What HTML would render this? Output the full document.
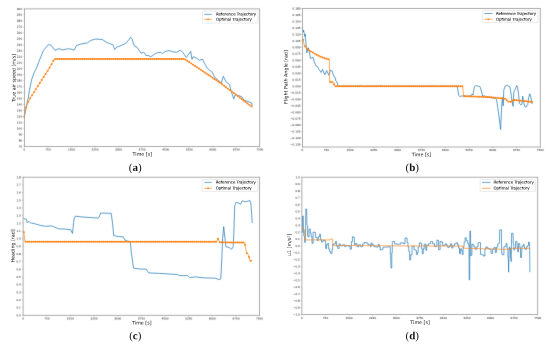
<!DOCTYPE html>
<html lang="en"><head><meta charset="utf-8"><title>Trajectory comparison</title>
<style>
html,body{margin:0;padding:0;background:#fff;}
body{width:550px;height:347px;overflow:hidden;}
svg{display:block;}
text{font-family:"DejaVu Sans","Liberation Sans",sans-serif;fill:#222;text-rendering:geometricPrecision;}
.tk{font-size:2.8px;fill:#000;}
.lb{font-size:4.8px;fill:#111;}
.lg{font-size:3.92px;fill:#000;stroke:#000;stroke-width:0.04px;}
.cap{font-family:"Liberation Serif","DejaVu Serif",serif;font-size:11px;fill:#111;}
</style></head><body>
<svg width="550" height="347" viewBox="0 0 550 347">
<rect width="550" height="347" fill="#fff"/>
<filter id="soft" x="0" y="0" width="550" height="347" filterUnits="userSpaceOnUse" color-interpolation-filters="sRGB"><feConvolveMatrix order="3" kernelMatrix="0.01 0.05 0.01 0.05 0.76 0.05 0.01 0.05 0.01" edgeMode="duplicate" preserveAlpha="false"/></filter>
<filter id="soft2" x="0" y="0" width="550" height="347" filterUnits="userSpaceOnUse" color-interpolation-filters="sRGB"><feConvolveMatrix order="3" kernelMatrix="0.015 0.07 0.015 0.07 0.66 0.07 0.015 0.07 0.015" edgeMode="duplicate" preserveAlpha="false"/></filter>
<g filter="url(#soft)"><rect width="550" height="347" fill="#fff"/>

<path d="M24.5,146.4v1.1M48.0,146.4v1.1M71.5,146.4v1.1M95.1,146.4v1.1M118.6,146.4v1.1M142.1,146.4v1.1M165.7,146.4v1.1M189.2,146.4v1.1M212.7,146.4v1.1M236.2,146.4v1.1M259.8,146.4v1.1M24.5,8.9h-1.1M24.5,14.9h-1.1M24.5,20.9h-1.1M24.5,26.8h-1.1M24.5,32.8h-1.1M24.5,38.8h-1.1M24.5,44.8h-1.1M24.5,50.7h-1.1M24.5,56.7h-1.1M24.5,62.7h-1.1M24.5,68.7h-1.1M24.5,74.7h-1.1M24.5,80.6h-1.1M24.5,86.6h-1.1M24.5,92.6h-1.1M24.5,98.6h-1.1M24.5,104.6h-1.1M24.5,110.5h-1.1M24.5,116.5h-1.1M24.5,122.5h-1.1M24.5,128.5h-1.1M24.5,134.4h-1.1M24.5,140.4h-1.1M24.5,146.4h-1.1" stroke="#9a9a9a" stroke-width="0.5" fill="none"/>
<path d="M24.5,114.9 L26.5,105.7 L28.4,97.4 L29.5,90.0 L31.5,80.0 L34.3,72.2 L36.6,68.0 L38.5,62.5 L43.5,50.4 L48.3,44.6 L51.2,45.3 L55.0,50.4 L59.2,48.5 L62.0,50.0 L67.7,48.8 L70.9,49.1 L74.1,50.1 L76.6,45.5 L81.1,44.0 L86.2,43.1 L87.5,42.9 L90.7,40.4 L95.8,39.1 L102.2,39.5 L106.6,42.3 L110.5,43.9 L113.0,44.8 L114.7,49.5 L116.8,47.1 L121.9,45.2 L126.4,42.9 L128.9,39.7 L130.6,37.2 L132.1,39.1 L134.0,45.5 L137.2,47.4 L141.0,53.3 L143.8,52.1 L146.1,55.6 L148.0,55.3 L150.5,56.7 L151.9,56.1 L156.4,52.9 L160.8,52.3 L162.5,53.5 L165.3,51.4 L169.1,50.6 L173.5,51.9 L176.7,52.3 L180.3,50.1 L183.1,52.9 L186.3,57.4 L188.2,54.8 L190.7,51.3 L192.0,59.3 L193.3,56.7 L196.5,58.0 L199.6,60.5 L202.4,59.0 L204.7,63.7 L207.5,68.6 L212.2,72.2 L214.7,77.3 L218.5,80.5 L221.3,83.0 L223.3,76.3 L226.2,82.1 L229.4,84.3 L231.2,91.3 L233.8,99.0 L235.1,94.6 L238.7,95.6 L242.1,97.0 L243.8,100.0 L248.0,101.6 L251.5,103.0 L252.3,105.8" fill="none" stroke="#1f77b4" stroke-width="0.9" stroke-opacity="0.8" stroke-linejoin="round"/>
<path d="M24.3,116.8 L26.2,107.4 L28.3,101.4 L30.0,98.4 L49.1,68.5 L54.4,59.0 L184.6,59.0 L220.5,83.0 L252.7,107.4" fill="none" stroke="#ff7f0e" stroke-width="0.75" stroke-opacity="0.9" stroke-linejoin="round"/>
<g fill="#ff7f0e"><circle cx="24.30" cy="116.80" r="0.97"/><circle cx="26.24" cy="107.29" r="0.97"/><circle cx="28.18" cy="101.74" r="0.97"/><circle cx="30.12" cy="98.21" r="0.97"/><circle cx="32.06" cy="95.18" r="0.97"/><circle cx="34.00" cy="92.14" r="0.97"/><circle cx="35.94" cy="89.10" r="0.97"/><circle cx="37.88" cy="86.06" r="0.97"/><circle cx="39.82" cy="83.03" r="0.97"/><circle cx="41.76" cy="79.99" r="0.97"/><circle cx="43.70" cy="76.95" r="0.97"/><circle cx="45.64" cy="73.92" r="0.97"/><circle cx="47.58" cy="70.88" r="0.97"/><circle cx="49.52" cy="67.75" r="0.97"/><circle cx="51.46" cy="64.27" r="0.97"/><circle cx="53.40" cy="60.79" r="0.97"/><circle cx="55.34" cy="59.00" r="0.97"/><circle cx="57.28" cy="59.00" r="0.97"/><circle cx="59.22" cy="59.00" r="0.97"/><circle cx="61.16" cy="59.00" r="0.97"/><circle cx="63.10" cy="59.00" r="0.97"/><circle cx="65.04" cy="59.00" r="0.97"/><circle cx="66.98" cy="59.00" r="0.97"/><circle cx="68.92" cy="59.00" r="0.97"/><circle cx="70.86" cy="59.00" r="0.97"/><circle cx="72.80" cy="59.00" r="0.97"/><circle cx="74.74" cy="59.00" r="0.97"/><circle cx="76.68" cy="59.00" r="0.97"/><circle cx="78.62" cy="59.00" r="0.97"/><circle cx="80.56" cy="59.00" r="0.97"/><circle cx="82.50" cy="59.00" r="0.97"/><circle cx="84.44" cy="59.00" r="0.97"/><circle cx="86.38" cy="59.00" r="0.97"/><circle cx="88.32" cy="59.00" r="0.97"/><circle cx="90.26" cy="59.00" r="0.97"/><circle cx="92.20" cy="59.00" r="0.97"/><circle cx="94.14" cy="59.00" r="0.97"/><circle cx="96.08" cy="59.00" r="0.97"/><circle cx="98.02" cy="59.00" r="0.97"/><circle cx="99.96" cy="59.00" r="0.97"/><circle cx="101.90" cy="59.00" r="0.97"/><circle cx="103.84" cy="59.00" r="0.97"/><circle cx="105.78" cy="59.00" r="0.97"/><circle cx="107.72" cy="59.00" r="0.97"/><circle cx="109.66" cy="59.00" r="0.97"/><circle cx="111.60" cy="59.00" r="0.97"/><circle cx="113.54" cy="59.00" r="0.97"/><circle cx="115.48" cy="59.00" r="0.97"/><circle cx="117.42" cy="59.00" r="0.97"/><circle cx="119.36" cy="59.00" r="0.97"/><circle cx="121.30" cy="59.00" r="0.97"/><circle cx="123.24" cy="59.00" r="0.97"/><circle cx="125.18" cy="59.00" r="0.97"/><circle cx="127.12" cy="59.00" r="0.97"/><circle cx="129.06" cy="59.00" r="0.97"/><circle cx="131.00" cy="59.00" r="0.97"/><circle cx="132.94" cy="59.00" r="0.97"/><circle cx="134.88" cy="59.00" r="0.97"/><circle cx="136.82" cy="59.00" r="0.97"/><circle cx="138.76" cy="59.00" r="0.97"/><circle cx="140.70" cy="59.00" r="0.97"/><circle cx="142.64" cy="59.00" r="0.97"/><circle cx="144.58" cy="59.00" r="0.97"/><circle cx="146.52" cy="59.00" r="0.97"/><circle cx="148.46" cy="59.00" r="0.97"/><circle cx="150.40" cy="59.00" r="0.97"/><circle cx="152.34" cy="59.00" r="0.97"/><circle cx="154.28" cy="59.00" r="0.97"/><circle cx="156.22" cy="59.00" r="0.97"/><circle cx="158.16" cy="59.00" r="0.97"/><circle cx="160.10" cy="59.00" r="0.97"/><circle cx="162.04" cy="59.00" r="0.97"/><circle cx="163.98" cy="59.00" r="0.97"/><circle cx="165.92" cy="59.00" r="0.97"/><circle cx="167.86" cy="59.00" r="0.97"/><circle cx="169.80" cy="59.00" r="0.97"/><circle cx="171.74" cy="59.00" r="0.97"/><circle cx="173.68" cy="59.00" r="0.97"/><circle cx="175.62" cy="59.00" r="0.97"/><circle cx="177.56" cy="59.00" r="0.97"/><circle cx="179.50" cy="59.00" r="0.97"/><circle cx="181.44" cy="59.00" r="0.97"/><circle cx="183.38" cy="59.00" r="0.97"/><circle cx="185.32" cy="59.48" r="0.97"/><circle cx="187.26" cy="60.78" r="0.97"/><circle cx="189.20" cy="62.08" r="0.97"/><circle cx="191.14" cy="63.37" r="0.97"/><circle cx="193.08" cy="64.67" r="0.97"/><circle cx="195.02" cy="65.97" r="0.97"/><circle cx="196.96" cy="67.26" r="0.97"/><circle cx="198.90" cy="68.56" r="0.97"/><circle cx="200.84" cy="69.86" r="0.97"/><circle cx="202.78" cy="71.15" r="0.97"/><circle cx="204.72" cy="72.45" r="0.97"/><circle cx="206.66" cy="73.75" r="0.97"/><circle cx="208.60" cy="75.04" r="0.97"/><circle cx="210.54" cy="76.34" r="0.97"/><circle cx="212.48" cy="77.64" r="0.97"/><circle cx="214.42" cy="78.94" r="0.97"/><circle cx="216.36" cy="80.23" r="0.97"/><circle cx="218.30" cy="81.53" r="0.97"/><circle cx="220.24" cy="82.83" r="0.97"/><circle cx="222.18" cy="84.27" r="0.97"/><circle cx="224.12" cy="85.74" r="0.97"/><circle cx="226.06" cy="87.21" r="0.97"/><circle cx="228.00" cy="88.68" r="0.97"/><circle cx="229.94" cy="90.15" r="0.97"/><circle cx="231.88" cy="91.62" r="0.97"/><circle cx="233.82" cy="93.09" r="0.97"/><circle cx="235.76" cy="94.56" r="0.97"/><circle cx="237.70" cy="96.03" r="0.97"/><circle cx="239.64" cy="97.50" r="0.97"/><circle cx="241.58" cy="98.97" r="0.97"/><circle cx="243.52" cy="100.44" r="0.97"/><circle cx="245.46" cy="101.91" r="0.97"/><circle cx="247.40" cy="103.38" r="0.97"/><circle cx="249.34" cy="104.85" r="0.97"/><circle cx="251.28" cy="106.32" r="0.97"/></g>
<rect x="24.5" y="8.9" width="235.2" height="137.5" fill="none" stroke="#9a9a9a" stroke-width="0.8"/>
<rect x="202.5" y="11.1" width="55.3" height="12.0" rx="0.8" fill="#fff" fill-opacity="0.8" stroke="#d4d4d4" stroke-width="0.5"/>
<path d="M204.3,14.4H211.8" stroke="#1f77b4" stroke-width="0.7" stroke-opacity="0.95"/>
<path d="M204.3,19.3H211.8" stroke="#ff7f0e" stroke-width="0.7" stroke-opacity="0.95"/>
<circle cx="208.1" cy="19.3" r="0.9" fill="#ff7f0e"/>
<path d="M302.5,147.0v1.1M326.3,147.0v1.1M350.1,147.0v1.1M373.8,147.0v1.1M397.6,147.0v1.1M421.4,147.0v1.1M445.2,147.0v1.1M469.0,147.0v1.1M492.7,147.0v1.1M516.5,147.0v1.1M540.3,147.0v1.1M302.5,8.5h-1.1M302.5,15.0h-1.1M302.5,21.5h-1.1M302.5,27.9h-1.1M302.5,34.4h-1.1M302.5,40.9h-1.1M302.5,47.4h-1.1M302.5,53.9h-1.1M302.5,60.3h-1.1M302.5,66.8h-1.1M302.5,73.3h-1.1M302.5,79.8h-1.1M302.5,86.3h-1.1M302.5,92.7h-1.1M302.5,99.2h-1.1M302.5,105.7h-1.1M302.5,112.2h-1.1M302.5,118.7h-1.1M302.5,125.1h-1.1M302.5,131.6h-1.1M302.5,138.1h-1.1M302.5,144.6h-1.1" stroke="#9a9a9a" stroke-width="0.5" fill="none"/>
<path d="M303.1,29.7 L303.3,32.0 L303.6,30.5 L303.9,32.5 L304.6,33.8 L304.8,36.5 L305.1,34.0 L305.4,37.5 L305.8,41.2 L306.8,52.9 L308.3,47.8 L309.5,52.9 L310.5,58.5 L311.8,58.0 L312.9,57.1 L314.1,61.2 L315.5,64.9 L316.1,66.0 L317.5,66.5 L318.8,69.2 L321.1,72.5 L322.5,69.2 L324.8,74.8 L326.7,70.6 L328.8,75.2 L330.4,70.1 L332.2,71.1 L333.6,76.1 L335.0,77.1 L335.9,81.2 L337.1,82.1 L337.7,85.4 L338.5,86.2 L360.0,86.2 L361.0,85.8 L362.0,86.4 L380.0,86.2 L381.0,85.7 L382.0,86.3 L437.0,86.2 L438.0,86.8 L439.0,86.2 L457.3,86.3 L458.7,95.3 L459.6,96.4 L463.3,95.8 L467.0,96.2 L471.1,95.8 L472.1,93.9 L473.0,95.0 L474.4,86.5 L475.8,85.6 L479.9,86.5 L481.3,90.7 L482.7,96.2 L485.0,95.8 L485.9,97.1 L490.0,97.6 L495.4,98.3 L496.5,99.4 L497.8,107.7 L498.8,114.8 L500.6,129.5 L501.4,112.0 L501.8,104.0 L502.5,97.5 L503.2,105.8 L503.8,90.1 L505.2,86.0 L506.6,85.4 L509.8,86.5 L510.8,92.0 L512.0,101.2 L513.1,106.3 L513.8,92.0 L514.9,90.1 L516.8,85.5 L517.7,87.8 L518.6,94.8 L519.5,103.5 L520.9,104.9 L521.8,104.4 L522.7,96.1 L523.7,102.1 L524.6,106.3 L526.0,107.2 L527.8,104.4 L528.7,97.5 L529.7,93.8 L530.6,96.1 L531.5,101.2 L532.0,104.0" fill="none" stroke="#1f77b4" stroke-width="0.9" stroke-opacity="0.8" stroke-linejoin="round"/>
<path d="M303.1,39.8 L304.0,44.4 L305.8,47.7 L308.1,49.6 L311.8,52.0 L316.5,54.6 L321.1,56.9 L325.7,58.5 L329.4,59.6 L329.5,82.1 L333.6,82.1 L334.5,86.2 L462.6,86.2 L463.7,96.2 L490.0,97.1 L506.1,98.9 L507.5,101.5 L512.1,101.9 L513.1,99.8 L532.9,102.1" fill="none" stroke="#ff7f0e" stroke-width="0.75" stroke-opacity="0.9" stroke-linejoin="round"/>
<g fill="#ff7f0e"><circle cx="303.10" cy="39.80" r="0.97"/><circle cx="305.04" cy="46.31" r="0.97"/><circle cx="306.98" cy="48.67" r="0.97"/><circle cx="308.92" cy="50.13" r="0.97"/><circle cx="310.86" cy="51.39" r="0.97"/><circle cx="312.80" cy="52.55" r="0.97"/><circle cx="314.74" cy="53.63" r="0.97"/><circle cx="316.68" cy="54.69" r="0.97"/><circle cx="318.62" cy="55.66" r="0.97"/><circle cx="320.56" cy="56.63" r="0.97"/><circle cx="322.50" cy="57.39" r="0.97"/><circle cx="324.44" cy="58.06" r="0.97"/><circle cx="326.38" cy="58.70" r="0.97"/><circle cx="328.32" cy="59.28" r="0.97"/><circle cx="330.26" cy="82.10" r="0.97"/><circle cx="332.20" cy="82.10" r="0.97"/><circle cx="334.14" cy="84.56" r="0.97"/><circle cx="336.08" cy="86.20" r="0.97"/><circle cx="338.02" cy="86.20" r="0.97"/><circle cx="339.96" cy="86.20" r="0.97"/><circle cx="341.90" cy="86.20" r="0.97"/><circle cx="343.84" cy="86.20" r="0.97"/><circle cx="345.78" cy="86.20" r="0.97"/><circle cx="347.72" cy="86.20" r="0.97"/><circle cx="349.66" cy="86.20" r="0.97"/><circle cx="351.60" cy="86.20" r="0.97"/><circle cx="353.54" cy="86.20" r="0.97"/><circle cx="355.48" cy="86.20" r="0.97"/><circle cx="357.42" cy="86.20" r="0.97"/><circle cx="359.36" cy="86.20" r="0.97"/><circle cx="361.30" cy="86.20" r="0.97"/><circle cx="363.24" cy="86.20" r="0.97"/><circle cx="365.18" cy="86.20" r="0.97"/><circle cx="367.12" cy="86.20" r="0.97"/><circle cx="369.06" cy="86.20" r="0.97"/><circle cx="371.00" cy="86.20" r="0.97"/><circle cx="372.94" cy="86.20" r="0.97"/><circle cx="374.88" cy="86.20" r="0.97"/><circle cx="376.82" cy="86.20" r="0.97"/><circle cx="378.76" cy="86.20" r="0.97"/><circle cx="380.70" cy="86.20" r="0.97"/><circle cx="382.64" cy="86.20" r="0.97"/><circle cx="384.58" cy="86.20" r="0.97"/><circle cx="386.52" cy="86.20" r="0.97"/><circle cx="388.46" cy="86.20" r="0.97"/><circle cx="390.40" cy="86.20" r="0.97"/><circle cx="392.34" cy="86.20" r="0.97"/><circle cx="394.28" cy="86.20" r="0.97"/><circle cx="396.22" cy="86.20" r="0.97"/><circle cx="398.16" cy="86.20" r="0.97"/><circle cx="400.10" cy="86.20" r="0.97"/><circle cx="402.04" cy="86.20" r="0.97"/><circle cx="403.98" cy="86.20" r="0.97"/><circle cx="405.92" cy="86.20" r="0.97"/><circle cx="407.86" cy="86.20" r="0.97"/><circle cx="409.80" cy="86.20" r="0.97"/><circle cx="411.74" cy="86.20" r="0.97"/><circle cx="413.68" cy="86.20" r="0.97"/><circle cx="415.62" cy="86.20" r="0.97"/><circle cx="417.56" cy="86.20" r="0.97"/><circle cx="419.50" cy="86.20" r="0.97"/><circle cx="421.44" cy="86.20" r="0.97"/><circle cx="423.38" cy="86.20" r="0.97"/><circle cx="425.32" cy="86.20" r="0.97"/><circle cx="427.26" cy="86.20" r="0.97"/><circle cx="429.20" cy="86.20" r="0.97"/><circle cx="431.14" cy="86.20" r="0.97"/><circle cx="433.08" cy="86.20" r="0.97"/><circle cx="435.02" cy="86.20" r="0.97"/><circle cx="436.96" cy="86.20" r="0.97"/><circle cx="438.90" cy="86.20" r="0.97"/><circle cx="440.84" cy="86.20" r="0.97"/><circle cx="442.78" cy="86.20" r="0.97"/><circle cx="444.72" cy="86.20" r="0.97"/><circle cx="446.66" cy="86.20" r="0.97"/><circle cx="448.60" cy="86.20" r="0.97"/><circle cx="450.54" cy="86.20" r="0.97"/><circle cx="452.48" cy="86.20" r="0.97"/><circle cx="454.42" cy="86.20" r="0.97"/><circle cx="456.36" cy="86.20" r="0.97"/><circle cx="458.30" cy="86.20" r="0.97"/><circle cx="460.24" cy="86.20" r="0.97"/><circle cx="462.18" cy="86.20" r="0.97"/><circle cx="464.12" cy="96.21" r="0.97"/><circle cx="466.06" cy="96.28" r="0.97"/><circle cx="468.00" cy="96.35" r="0.97"/><circle cx="469.94" cy="96.41" r="0.97"/><circle cx="471.88" cy="96.48" r="0.97"/><circle cx="473.82" cy="96.55" r="0.97"/><circle cx="475.76" cy="96.61" r="0.97"/><circle cx="477.70" cy="96.68" r="0.97"/><circle cx="479.64" cy="96.75" r="0.97"/><circle cx="481.58" cy="96.81" r="0.97"/><circle cx="483.52" cy="96.88" r="0.97"/><circle cx="485.46" cy="96.94" r="0.97"/><circle cx="487.40" cy="97.01" r="0.97"/><circle cx="489.34" cy="97.08" r="0.97"/><circle cx="491.28" cy="97.24" r="0.97"/><circle cx="493.22" cy="97.46" r="0.97"/><circle cx="495.16" cy="97.68" r="0.97"/><circle cx="497.10" cy="97.89" r="0.97"/><circle cx="499.04" cy="98.11" r="0.97"/><circle cx="500.98" cy="98.33" r="0.97"/><circle cx="502.92" cy="98.54" r="0.97"/><circle cx="504.86" cy="98.76" r="0.97"/><circle cx="506.80" cy="100.20" r="0.97"/><circle cx="508.74" cy="101.61" r="0.97"/><circle cx="510.68" cy="101.78" r="0.97"/><circle cx="512.62" cy="100.81" r="0.97"/><circle cx="514.56" cy="99.97" r="0.97"/><circle cx="516.50" cy="100.19" r="0.97"/><circle cx="518.44" cy="100.42" r="0.97"/><circle cx="520.38" cy="100.65" r="0.97"/><circle cx="522.32" cy="100.87" r="0.97"/><circle cx="524.26" cy="101.10" r="0.97"/><circle cx="526.20" cy="101.32" r="0.97"/><circle cx="528.14" cy="101.55" r="0.97"/><circle cx="530.08" cy="101.77" r="0.97"/><circle cx="532.02" cy="102.00" r="0.97"/></g>
<rect x="302.5" y="8.5" width="237.8" height="138.5" fill="none" stroke="#9a9a9a" stroke-width="0.8"/>
<rect x="482.6" y="10.5" width="55.6" height="12.0" rx="0.8" fill="#fff" fill-opacity="0.8" stroke="#d4d4d4" stroke-width="0.5"/>
<path d="M484.3,13.5H492.5" stroke="#1f77b4" stroke-width="0.7" stroke-opacity="0.95"/>
<path d="M484.3,19.3H492.5" stroke="#ff7f0e" stroke-width="0.7" stroke-opacity="0.95"/>
<circle cx="488.4" cy="19.3" r="0.9" fill="#ff7f0e"/>
<path d="M23.1,315.3v1.1M46.8,315.3v1.1M70.4,315.3v1.1M94.1,315.3v1.1M117.7,315.3v1.1M141.4,315.3v1.1M165.0,315.3v1.1M188.7,315.3v1.1M212.3,315.3v1.1M236.0,315.3v1.1M259.6,315.3v1.1M23.1,177.2h-1.1M23.1,184.9h-1.1M23.1,192.5h-1.1M23.1,200.2h-1.1M23.1,207.9h-1.1M23.1,215.6h-1.1M23.1,223.2h-1.1M23.1,230.9h-1.1M23.1,238.6h-1.1M23.1,246.2h-1.1M23.1,253.9h-1.1M23.1,261.6h-1.1M23.1,269.3h-1.1M23.1,276.9h-1.1M23.1,284.6h-1.1M23.1,292.3h-1.1M23.1,300.0h-1.1M23.1,307.6h-1.1M23.1,315.3h-1.1" stroke="#9a9a9a" stroke-width="0.5" fill="none"/>
<path d="M23.3,218.7 L26.3,219.2 L27.2,222.5 L29.2,221.5 L30.7,223.0 L34.5,223.7 L40.9,225.5 L45.4,226.3 L51.7,225.9 L58.7,228.8 L65.1,229.1 L70.8,229.7 L72.5,233.5 L74.0,218.9 L75.5,216.1 L80.0,216.8 L97.8,218.1 L99.1,217.2 L100.7,213.0 L111.2,213.4 L112.5,222.9 L113.7,235.6 L118.2,236.5 L123.3,236.9 L125.2,240.3 L130.3,242.0 L131.5,254.1 L133.5,268.1 L140.5,269.1 L146.2,269.1 L148.7,272.9 L159.5,273.4 L177.4,274.5 L179.3,275.6 L187.7,275.6 L189.6,277.5 L195.4,276.9 L204.3,277.9 L215.7,278.2 L218.9,279.7 L220.8,278.8 L221.8,259.1 L222.6,238.8 L223.7,226.6 L224.8,237.0 L225.9,246.7 L229.4,247.6 L231.4,249.4 L233.1,247.1 L233.8,234.2 L234.7,205.8 L236.1,202.3 L238.7,203.2 L240.4,204.4 L242.2,200.9 L245.6,201.8 L250.0,200.6 L250.8,202.3 L251.7,214.4 L252.2,223.0" fill="none" stroke="#1f77b4" stroke-width="0.9" stroke-opacity="0.8" stroke-linejoin="round"/>
<path d="M23.9,232.3 L24.9,241.7 L216.5,241.8 L218.1,238.4 L219.7,242.3 L244.7,242.6 L246.4,252.5 L248.5,254.8 L249.7,260.6 L252.2,260.8" fill="none" stroke="#ff7f0e" stroke-width="0.75" stroke-opacity="0.9" stroke-linejoin="round"/>
<g fill="#ff7f0e"><circle cx="23.90" cy="232.30" r="0.97"/><circle cx="25.84" cy="241.70" r="0.97"/><circle cx="27.78" cy="241.70" r="0.97"/><circle cx="29.72" cy="241.70" r="0.97"/><circle cx="31.66" cy="241.70" r="0.97"/><circle cx="33.60" cy="241.70" r="0.97"/><circle cx="35.54" cy="241.71" r="0.97"/><circle cx="37.48" cy="241.71" r="0.97"/><circle cx="39.42" cy="241.71" r="0.97"/><circle cx="41.36" cy="241.71" r="0.97"/><circle cx="43.30" cy="241.71" r="0.97"/><circle cx="45.24" cy="241.71" r="0.97"/><circle cx="47.18" cy="241.71" r="0.97"/><circle cx="49.12" cy="241.71" r="0.97"/><circle cx="51.06" cy="241.71" r="0.97"/><circle cx="53.00" cy="241.71" r="0.97"/><circle cx="54.94" cy="241.72" r="0.97"/><circle cx="56.88" cy="241.72" r="0.97"/><circle cx="58.82" cy="241.72" r="0.97"/><circle cx="60.76" cy="241.72" r="0.97"/><circle cx="62.70" cy="241.72" r="0.97"/><circle cx="64.64" cy="241.72" r="0.97"/><circle cx="66.58" cy="241.72" r="0.97"/><circle cx="68.52" cy="241.72" r="0.97"/><circle cx="70.46" cy="241.72" r="0.97"/><circle cx="72.40" cy="241.72" r="0.97"/><circle cx="74.34" cy="241.73" r="0.97"/><circle cx="76.28" cy="241.73" r="0.97"/><circle cx="78.22" cy="241.73" r="0.97"/><circle cx="80.16" cy="241.73" r="0.97"/><circle cx="82.10" cy="241.73" r="0.97"/><circle cx="84.04" cy="241.73" r="0.97"/><circle cx="85.98" cy="241.73" r="0.97"/><circle cx="87.92" cy="241.73" r="0.97"/><circle cx="89.86" cy="241.73" r="0.97"/><circle cx="91.80" cy="241.73" r="0.97"/><circle cx="93.74" cy="241.74" r="0.97"/><circle cx="95.68" cy="241.74" r="0.97"/><circle cx="97.62" cy="241.74" r="0.97"/><circle cx="99.56" cy="241.74" r="0.97"/><circle cx="101.50" cy="241.74" r="0.97"/><circle cx="103.44" cy="241.74" r="0.97"/><circle cx="105.38" cy="241.74" r="0.97"/><circle cx="107.32" cy="241.74" r="0.97"/><circle cx="109.26" cy="241.74" r="0.97"/><circle cx="111.20" cy="241.75" r="0.97"/><circle cx="113.14" cy="241.75" r="0.97"/><circle cx="115.08" cy="241.75" r="0.97"/><circle cx="117.02" cy="241.75" r="0.97"/><circle cx="118.96" cy="241.75" r="0.97"/><circle cx="120.90" cy="241.75" r="0.97"/><circle cx="122.84" cy="241.75" r="0.97"/><circle cx="124.78" cy="241.75" r="0.97"/><circle cx="126.72" cy="241.75" r="0.97"/><circle cx="128.66" cy="241.75" r="0.97"/><circle cx="130.60" cy="241.76" r="0.97"/><circle cx="132.54" cy="241.76" r="0.97"/><circle cx="134.48" cy="241.76" r="0.97"/><circle cx="136.42" cy="241.76" r="0.97"/><circle cx="138.36" cy="241.76" r="0.97"/><circle cx="140.30" cy="241.76" r="0.97"/><circle cx="142.24" cy="241.76" r="0.97"/><circle cx="144.18" cy="241.76" r="0.97"/><circle cx="146.12" cy="241.76" r="0.97"/><circle cx="148.06" cy="241.76" r="0.97"/><circle cx="150.00" cy="241.77" r="0.97"/><circle cx="151.94" cy="241.77" r="0.97"/><circle cx="153.88" cy="241.77" r="0.97"/><circle cx="155.82" cy="241.77" r="0.97"/><circle cx="157.76" cy="241.77" r="0.97"/><circle cx="159.70" cy="241.77" r="0.97"/><circle cx="161.64" cy="241.77" r="0.97"/><circle cx="163.58" cy="241.77" r="0.97"/><circle cx="165.52" cy="241.77" r="0.97"/><circle cx="167.46" cy="241.77" r="0.97"/><circle cx="169.40" cy="241.78" r="0.97"/><circle cx="171.34" cy="241.78" r="0.97"/><circle cx="173.28" cy="241.78" r="0.97"/><circle cx="175.22" cy="241.78" r="0.97"/><circle cx="177.16" cy="241.78" r="0.97"/><circle cx="179.10" cy="241.78" r="0.97"/><circle cx="181.04" cy="241.78" r="0.97"/><circle cx="182.98" cy="241.78" r="0.97"/><circle cx="184.92" cy="241.78" r="0.97"/><circle cx="186.86" cy="241.78" r="0.97"/><circle cx="188.80" cy="241.79" r="0.97"/><circle cx="190.74" cy="241.79" r="0.97"/><circle cx="192.68" cy="241.79" r="0.97"/><circle cx="194.62" cy="241.79" r="0.97"/><circle cx="196.56" cy="241.79" r="0.97"/><circle cx="198.50" cy="241.79" r="0.97"/><circle cx="200.44" cy="241.79" r="0.97"/><circle cx="202.38" cy="241.79" r="0.97"/><circle cx="204.32" cy="241.79" r="0.97"/><circle cx="206.26" cy="241.79" r="0.97"/><circle cx="208.20" cy="241.80" r="0.97"/><circle cx="210.14" cy="241.80" r="0.97"/><circle cx="212.08" cy="241.80" r="0.97"/><circle cx="214.02" cy="241.80" r="0.97"/><circle cx="215.96" cy="241.80" r="0.97"/><circle cx="217.90" cy="238.83" r="0.97"/><circle cx="219.84" cy="242.30" r="0.97"/><circle cx="221.78" cy="242.32" r="0.97"/><circle cx="223.72" cy="242.35" r="0.97"/><circle cx="225.66" cy="242.37" r="0.97"/><circle cx="227.60" cy="242.39" r="0.97"/><circle cx="229.54" cy="242.42" r="0.97"/><circle cx="231.48" cy="242.44" r="0.97"/><circle cx="233.42" cy="242.46" r="0.97"/><circle cx="235.36" cy="242.49" r="0.97"/><circle cx="237.30" cy="242.51" r="0.97"/><circle cx="239.24" cy="242.53" r="0.97"/><circle cx="241.18" cy="242.56" r="0.97"/><circle cx="243.12" cy="242.58" r="0.97"/><circle cx="245.06" cy="244.70" r="0.97"/><circle cx="247.00" cy="253.16" r="0.97"/><circle cx="248.94" cy="256.93" r="0.97"/><circle cx="250.88" cy="260.69" r="0.97"/></g>
<rect x="23.1" y="177.2" width="236.5" height="138.1" fill="none" stroke="#9a9a9a" stroke-width="0.8"/>
<rect x="202.3" y="179.5" width="55.5" height="12.0" rx="0.8" fill="#fff" fill-opacity="0.8" stroke="#d4d4d4" stroke-width="0.5"/>
<path d="M204.3,182.4H211.8" stroke="#1f77b4" stroke-width="0.7" stroke-opacity="0.95"/>
<path d="M204.3,188.3H211.8" stroke="#ff7f0e" stroke-width="0.7" stroke-opacity="0.95"/>
<circle cx="208.1" cy="188.3" r="0.9" fill="#ff7f0e"/>
<path d="M301.9,314.6v1.1M325.5,314.6v1.1M349.1,314.6v1.1M372.6,314.6v1.1M396.2,314.6v1.1M419.8,314.6v1.1M443.4,314.6v1.1M467.0,314.6v1.1M490.5,314.6v1.1M514.1,314.6v1.1M537.7,314.6v1.1M301.9,177.2h-1.1M301.9,184.1h-1.1M301.9,190.9h-1.1M301.9,197.8h-1.1M301.9,204.7h-1.1M301.9,211.6h-1.1M301.9,218.4h-1.1M301.9,225.3h-1.1M301.9,232.2h-1.1M301.9,239.0h-1.1M301.9,245.9h-1.1M301.9,252.8h-1.1M301.9,259.6h-1.1M301.9,266.5h-1.1M301.9,273.4h-1.1M301.9,280.2h-1.1M301.9,287.1h-1.1M301.9,294.0h-1.1M301.9,300.9h-1.1M301.9,307.7h-1.1M301.9,314.6h-1.1" stroke="#9a9a9a" stroke-width="0.5" fill="none"/>
<path d="M302.4,232.5 L302.5,216.0 L303.3,216.0 L303.4,232.5 L303.8,232.5 L303.8,236.0 L304.2,236.0 L304.7,236.0 L304.7,242.5 L305.2,242.5 L305.6,230.0 L305.8,209.0 L306.7,209.0 L306.9,225.0 L307.3,225.4 L307.6,225.4 L307.6,236.0 L308.0,236.0 L308.4,237.0 L309.0,237.0 L309.0,229.0 L309.7,229.0 L310.3,229.0 L310.3,233.0 L310.9,233.0 L311.1,233.0 L311.1,236.5 L311.4,236.5 L312.0,236.5 L312.0,243.3 L312.6,243.3 L313.1,243.3 L313.1,232.0 L313.6,232.0 L314.2,232.0 L314.2,232.5 L314.8,232.5 L315.6,232.5 L315.6,237.5 L316.5,237.5 L317.2,237.5 L317.2,240.5 L317.9,240.5 L318.4,240.5 L318.4,236.7 L318.8,236.7 L319.6,236.7 L319.6,234.2 L320.3,234.2 L320.6,234.2 L320.6,239.8 L320.9,239.8 L321.6,239.8 L321.6,242.1 L322.3,242.1 L323.0,242.1 L323.0,240.2 L323.7,240.2 L324.4,240.2 L324.4,240.7 L325.1,240.7 L325.6,240.7 L325.6,248.5 L326.0,248.5 L326.6,248.5 L326.6,244.8 L327.2,244.8 L327.6,244.8 L327.6,243.5 L328.1,243.5 L328.6,243.5 L328.6,249.0 L329.2,249.0 L329.6,249.0 L329.6,251.8 L330.1,251.8 L330.8,251.8 L330.8,253.6 L331.5,253.6 L332.0,253.6 L332.0,249.9 L332.5,249.9 L332.9,244.4 L333.9,244.4 L333.9,243.9 L334.8,243.9 L335.5,243.9 L335.5,241.6 L336.1,241.6 L336.6,241.6 L336.6,246.2 L337.1,246.2 L337.8,246.2 L337.8,248.5 L338.5,248.5 L339.1,248.5 L339.1,243.9 L339.6,243.9 L340.4,243.9 L340.4,245.8 L341.2,245.8 L342.6,245.8 L342.6,244.8 L344.0,244.8 L344.7,244.8 L344.7,246.7 L345.4,246.7 L346.1,246.7 L346.1,245.5 L346.8,245.5 L348.1,245.5 L348.1,246.2 L349.5,246.2 L350.2,246.2 L350.2,249.2 L350.9,249.2 L351.4,249.2 L351.4,241.6 L351.8,241.6 L352.4,241.6 L352.4,236.8 L353.0,236.8 L353.4,236.8 L353.4,237.5 L353.9,237.5 L354.4,237.5 L354.4,244.8 L354.9,244.8 L355.6,244.8 L355.6,243.5 L356.4,243.5 L357.1,243.5 L357.1,246.7 L357.8,246.7 L358.8,246.7 L358.8,244.8 L359.7,244.8 L360.6,244.8 L360.6,246.7 L361.5,246.7 L362.6,246.7 L362.6,243.9 L363.8,243.9 L364.2,243.9 L364.2,242.5 L364.7,242.5 L366.0,242.5 L366.0,243.0 L367.3,243.0 L368.0,243.0 L368.0,244.8 L368.7,244.8 L370.0,244.8 L370.4,244.8 L370.4,246.7 L370.7,246.7 L371.1,246.7 L371.1,243.0 L371.6,243.0 L372.2,243.0 L372.2,244.8 L372.8,244.8 L374.0,244.8 L374.0,246.7 L375.1,246.7 L376.3,246.7 L376.3,247.1 L377.5,247.1 L378.1,247.1 L378.1,244.4 L378.8,244.4 L379.3,244.4 L379.3,246.7 L379.8,246.7 L380.2,246.7 L380.2,249.9 L380.7,249.9 L381.6,249.9 L381.6,249.4 L382.5,249.4 L383.0,249.4 L383.0,247.1 L383.5,247.1 L387.1,247.1 L388.5,247.1 L388.5,246.7 L389.9,246.7 L390.3,246.7 L390.3,254.5 L390.7,254.5 L391.0,268.0 L391.5,268.0 L391.8,268.0 L391.8,252.7 L392.0,252.7 L392.3,252.7 L392.3,241.6 L392.6,241.6 L394.2,241.5 L394.6,241.5 L394.6,243.8 L395.1,243.8 L396.8,243.8 L396.8,244.2 L398.5,244.2 L400.6,244.2 L400.6,242.8 L402.6,242.8 L403.5,242.8 L403.5,243.8 L404.4,243.8 L405.0,243.8 L405.0,238.0 L405.7,238.0 L406.7,238.0 L407.1,238.0 L407.1,242.4 L407.6,242.4 L408.0,242.4 L408.0,247.0 L408.4,247.0 L408.8,247.0 L408.8,251.6 L409.1,251.6 L409.6,251.6 L409.6,259.9 L410.0,259.9 L410.7,259.9 L410.7,254.8 L411.4,254.8 L412.0,254.8 L412.0,246.5 L412.7,246.5 L413.2,246.5 L413.2,246.1 L413.7,246.1 L414.1,246.1 L414.1,249.8 L414.6,249.8 L415.3,249.8 L415.3,250.2 L416.0,250.2 L416.4,250.2 L416.4,254.4 L416.9,254.4 L417.4,254.4 L417.4,252.5 L417.8,252.5 L418.2,252.5 L418.2,247.0 L418.7,247.0 L419.4,247.0 L419.4,242.8 L420.1,242.8 L420.6,242.8 L420.6,243.3 L421.1,243.3 L421.6,243.3 L421.6,248.8 L422.0,248.8 L422.3,248.8 L422.3,253.9 L422.6,253.9 L423.2,253.9 L423.2,248.8 L423.8,248.8 L424.2,248.8 L424.2,244.2 L424.7,244.2 L425.4,244.0 L425.8,244.0 L425.8,250.3 L426.1,250.3 L426.7,250.3 L426.7,245.2 L427.3,245.2 L428.5,245.2 L428.5,243.8 L429.6,243.8 L430.6,243.8 L430.6,241.5 L431.5,241.5 L432.6,241.5 L432.6,243.8 L433.8,243.8 L434.5,243.8 L434.5,246.6 L435.1,246.6 L435.8,246.6 L435.8,246.2 L436.5,246.2 L436.9,246.2 L436.9,240.1 L437.3,240.1 L437.8,240.1 L437.8,240.5 L438.3,240.5 L438.6,240.5 L438.6,249.8 L438.8,249.8 L439.8,249.8 L440.1,249.8 L440.1,241.5 L440.5,241.5 L441.3,241.5 L441.3,242.0 L442.1,242.0 L442.6,242.0 L442.6,245.7 L443.0,245.7 L443.9,245.7 L443.9,245.2 L444.8,245.2 L445.3,245.2 L445.3,243.8 L445.8,243.8 L446.5,243.8 L446.5,245.2 L447.1,245.2 L447.8,245.2 L447.8,247.5 L448.5,247.5 L449.2,247.5 L449.2,246.1 L449.9,246.1 L450.6,246.1 L450.6,243.8 L451.3,243.8 L451.8,243.8 L451.8,248.0 L452.2,248.0 L452.9,248.0 L452.9,245.7 L453.6,245.7 L454.5,245.7 L454.5,243.8 L455.4,243.8 L456.1,243.8 L456.1,242.8 L456.8,242.8 L457.5,242.8 L457.5,244.8 L458.2,244.8 L458.6,244.8 L458.6,248.0 L459.1,248.0 L459.5,248.0 L459.5,253.6 L459.8,253.6 L460.4,253.6 L460.4,248.8 L461.0,248.8 L461.4,248.8 L461.4,250.5 L461.8,250.5 L462.2,250.5 L462.2,254.6 L462.6,254.6 L463.1,254.6 L463.1,246.6 L463.6,246.6 L464.1,246.6 L464.1,242.0 L464.5,242.0 L465.1,242.0 L465.1,237.7 L465.6,237.7 L466.3,237.7 L466.3,240.6 L467.0,240.6 L467.7,240.6 L467.7,243.4 L468.4,243.4 L468.7,243.4 L468.7,245.0 L469.0,245.0 L469.2,279.9 L469.7,279.9 L469.9,231.0 L470.5,231.0 L470.8,255.7 L471.2,255.7 L471.2,255.2 L471.6,255.2 L471.9,255.2 L471.9,244.2 L472.1,244.2 L472.8,244.2 L472.8,244.6 L473.5,244.6 L473.9,244.6 L473.9,246.9 L474.4,246.9 L475.3,246.9 L475.3,249.2 L476.2,249.2 L476.9,249.2 L476.9,246.5 L477.6,246.5 L478.1,246.5 L478.1,242.6 L478.5,242.6 L480.1,242.6 L480.5,242.6 L480.5,254.3 L480.8,254.3 L481.8,254.3 L481.8,254.8 L482.7,254.8 L483.6,254.8 L483.6,256.1 L484.5,256.1 L484.9,256.1 L484.9,249.2 L485.3,249.2 L485.9,249.2 L485.9,246.9 L486.4,246.9 L487.3,246.9 L487.3,248.3 L488.2,248.3 L489.1,248.3 L489.1,249.2 L490.1,249.2 L491.0,249.2 L491.0,253.4 L491.9,253.4 L492.6,253.4 L492.6,249.2 L493.3,249.2 L494.0,249.2 L494.0,247.4 L494.7,247.4 L495.3,247.4 L495.3,252.5 L495.9,252.5 L496.4,252.5 L496.4,247.1 L496.8,247.1 L497.8,247.1 L497.8,243.9 L498.7,243.9 L499.1,243.9 L499.1,242.1 L499.5,242.1 L499.7,229.8 L501.4,229.8 L501.6,252.7 L502.0,252.7 L502.0,254.5 L502.4,254.5 L502.9,254.5 L502.9,254.8 L503.5,254.8 L503.9,254.8 L503.9,246.7 L504.2,246.7 L504.9,246.7 L504.9,246.2 L505.6,246.2 L506.1,246.2 L506.1,243.5 L506.5,243.5 L507.0,243.5 L507.0,248.1 L507.5,248.1 L507.9,248.1 L507.9,257.0 L508.3,257.0 L508.6,272.2 L509.0,257.0 L509.3,247.1 L509.8,247.1 L509.8,249.0 L510.2,249.0 L510.5,249.0 L510.5,257.0 L510.9,257.0 L511.2,261.6 L511.4,250.8 L511.6,233.3 L513.0,233.3 L513.3,244.4 L513.8,244.4 L513.8,249.9 L514.4,249.9 L514.8,249.9 L514.8,248.1 L515.3,248.1 L515.6,248.1 L515.6,241.6 L516.0,241.6 L517.0,241.6 L517.2,247.1 L517.7,247.1 L517.7,251.8 L518.1,251.8 L518.5,251.8 L518.5,243.5 L518.8,243.5 L519.7,243.5 L520.1,248.1 L520.5,248.1 L520.5,257.5 L520.8,257.5 L521.5,257.5 L521.9,246.7 L522.5,246.7 L522.5,245.8 L523.1,245.8 L523.6,245.8 L523.6,244.4 L524.1,244.4 L524.5,248.1 L525.2,248.1 L525.2,249.4 L525.9,249.4 L526.6,249.4 L526.6,246.7 L527.3,246.7 L527.8,246.7 L527.8,245.3 L528.2,245.3 L528.5,245.3 L528.5,242.1 L528.9,242.1 L529.2,242.1 L529.2,243.5 L529.6,243.5 L529.9,272.2" fill="none" stroke="#1f77b4" stroke-width="0.85" stroke-opacity="0.8" stroke-linejoin="round"/>
<path d="M302.5,227.9 L303.5,227.9 L303.5,229.8 L304.5,229.8 L304.5,234.4 L305.4,234.4 L305.4,239.9 L330.2,239.9 L330.2,239.1 L332.7,239.1 L332.7,245.4 L400.0,245.9 L463.0,246.1 L463.0,248.2 L490.0,248.9 L510.7,249.4 L510.7,248.3 L530.0,248.3" fill="none" stroke="#ff7f0e" stroke-width="0.9" stroke-opacity="0.72" stroke-linejoin="round"/>
<rect x="301.9" y="177.2" width="235.8" height="137.4" fill="none" stroke="#9a9a9a" stroke-width="0.8"/>
<rect x="480.2" y="179.5" width="55.3" height="12.0" rx="0.8" fill="#fff" fill-opacity="0.8" stroke="#d4d4d4" stroke-width="0.5"/>
<path d="M482.0,182.4H490.5" stroke="#1f77b4" stroke-width="0.7" stroke-opacity="0.95"/>
<path d="M482.0,188.3H490.5" stroke="#ff7f0e" stroke-width="0.7" stroke-opacity="0.95"/>
</g>
<g filter="url(#soft2)">
<text class="tk" x="24.5" y="150.40" transform="rotate(0.05 24.5 150.40)" text-anchor="middle">0</text>
<text class="tk" x="48.0" y="150.40" transform="rotate(0.05 48.0 150.40)" text-anchor="middle">750</text>
<text class="tk" x="71.5" y="150.40" transform="rotate(0.05 71.5 150.40)" text-anchor="middle">1500</text>
<text class="tk" x="95.1" y="150.40" transform="rotate(0.05 95.1 150.40)" text-anchor="middle">2250</text>
<text class="tk" x="118.6" y="150.40" transform="rotate(0.05 118.6 150.40)" text-anchor="middle">3000</text>
<text class="tk" x="142.1" y="150.40" transform="rotate(0.05 142.1 150.40)" text-anchor="middle">3750</text>
<text class="tk" x="165.7" y="150.40" transform="rotate(0.05 165.7 150.40)" text-anchor="middle">4500</text>
<text class="tk" x="189.2" y="150.40" transform="rotate(0.05 189.2 150.40)" text-anchor="middle">5250</text>
<text class="tk" x="212.7" y="150.40" transform="rotate(0.05 212.7 150.40)" text-anchor="middle">6000</text>
<text class="tk" x="236.2" y="150.40" transform="rotate(0.05 236.2 150.40)" text-anchor="middle">6750</text>
<text class="tk" x="259.8" y="150.40" transform="rotate(0.05 259.8 150.40)" text-anchor="middle">7500</text>
<text class="tk" x="22.2" y="9.90" transform="rotate(0.05 22.2 9.90)" text-anchor="end">300</text>
<text class="tk" x="22.2" y="15.88" transform="rotate(0.05 22.2 15.88)" text-anchor="end">290</text>
<text class="tk" x="22.2" y="21.86" transform="rotate(0.05 22.2 21.86)" text-anchor="end">280</text>
<text class="tk" x="22.2" y="27.83" transform="rotate(0.05 22.2 27.83)" text-anchor="end">270</text>
<text class="tk" x="22.2" y="33.81" transform="rotate(0.05 22.2 33.81)" text-anchor="end">260</text>
<text class="tk" x="22.2" y="39.79" transform="rotate(0.05 22.2 39.79)" text-anchor="end">250</text>
<text class="tk" x="22.2" y="45.77" transform="rotate(0.05 22.2 45.77)" text-anchor="end">240</text>
<text class="tk" x="22.2" y="51.75" transform="rotate(0.05 22.2 51.75)" text-anchor="end">230</text>
<text class="tk" x="22.2" y="57.73" transform="rotate(0.05 22.2 57.73)" text-anchor="end">220</text>
<text class="tk" x="22.2" y="63.70" transform="rotate(0.05 22.2 63.70)" text-anchor="end">210</text>
<text class="tk" x="22.2" y="69.68" transform="rotate(0.05 22.2 69.68)" text-anchor="end">200</text>
<text class="tk" x="22.2" y="75.66" transform="rotate(0.05 22.2 75.66)" text-anchor="end">190</text>
<text class="tk" x="22.2" y="81.64" transform="rotate(0.05 22.2 81.64)" text-anchor="end">180</text>
<text class="tk" x="22.2" y="87.62" transform="rotate(0.05 22.2 87.62)" text-anchor="end">170</text>
<text class="tk" x="22.2" y="93.60" transform="rotate(0.05 22.2 93.60)" text-anchor="end">160</text>
<text class="tk" x="22.2" y="99.57" transform="rotate(0.05 22.2 99.57)" text-anchor="end">150</text>
<text class="tk" x="22.2" y="105.55" transform="rotate(0.05 22.2 105.55)" text-anchor="end">140</text>
<text class="tk" x="22.2" y="111.53" transform="rotate(0.05 22.2 111.53)" text-anchor="end">130</text>
<text class="tk" x="22.2" y="117.51" transform="rotate(0.05 22.2 117.51)" text-anchor="end">120</text>
<text class="tk" x="22.2" y="123.49" transform="rotate(0.05 22.2 123.49)" text-anchor="end">110</text>
<text class="tk" x="22.2" y="129.47" transform="rotate(0.05 22.2 129.47)" text-anchor="end">100</text>
<text class="tk" x="22.2" y="135.44" transform="rotate(0.05 22.2 135.44)" text-anchor="end">90</text>
<text class="tk" x="22.2" y="141.42" transform="rotate(0.05 22.2 141.42)" text-anchor="end">80</text>
<text class="tk" x="22.2" y="147.40" transform="rotate(0.05 22.2 147.40)" text-anchor="end">70</text>
<text class="tk" x="302.5" y="150.95" transform="rotate(0.05 302.5 150.95)" text-anchor="middle">0</text>
<text class="tk" x="326.3" y="150.95" transform="rotate(0.05 326.3 150.95)" text-anchor="middle">750</text>
<text class="tk" x="350.1" y="150.95" transform="rotate(0.05 350.1 150.95)" text-anchor="middle">1500</text>
<text class="tk" x="373.8" y="150.95" transform="rotate(0.05 373.8 150.95)" text-anchor="middle">2250</text>
<text class="tk" x="397.6" y="150.95" transform="rotate(0.05 397.6 150.95)" text-anchor="middle">3000</text>
<text class="tk" x="421.4" y="150.95" transform="rotate(0.05 421.4 150.95)" text-anchor="middle">3750</text>
<text class="tk" x="445.2" y="150.95" transform="rotate(0.05 445.2 150.95)" text-anchor="middle">4500</text>
<text class="tk" x="469.0" y="150.95" transform="rotate(0.05 469.0 150.95)" text-anchor="middle">5250</text>
<text class="tk" x="492.7" y="150.95" transform="rotate(0.05 492.7 150.95)" text-anchor="middle">6000</text>
<text class="tk" x="516.5" y="150.95" transform="rotate(0.05 516.5 150.95)" text-anchor="middle">6750</text>
<text class="tk" x="540.3" y="150.95" transform="rotate(0.05 540.3 150.95)" text-anchor="middle">7500</text>
<text class="tk" x="300.5" y="9.50" transform="rotate(0.05 300.5 9.50)" text-anchor="end">0.180</text>
<text class="tk" x="300.5" y="15.98" transform="rotate(0.05 300.5 15.98)" text-anchor="end">0.165</text>
<text class="tk" x="300.5" y="22.46" transform="rotate(0.05 300.5 22.46)" text-anchor="end">0.150</text>
<text class="tk" x="300.5" y="28.94" transform="rotate(0.05 300.5 28.94)" text-anchor="end">0.135</text>
<text class="tk" x="300.5" y="35.42" transform="rotate(0.05 300.5 35.42)" text-anchor="end">0.120</text>
<text class="tk" x="300.5" y="41.90" transform="rotate(0.05 300.5 41.90)" text-anchor="end">0.105</text>
<text class="tk" x="300.5" y="48.38" transform="rotate(0.05 300.5 48.38)" text-anchor="end">0.090</text>
<text class="tk" x="300.5" y="54.86" transform="rotate(0.05 300.5 54.86)" text-anchor="end">0.075</text>
<text class="tk" x="300.5" y="61.34" transform="rotate(0.05 300.5 61.34)" text-anchor="end">0.060</text>
<text class="tk" x="300.5" y="67.82" transform="rotate(0.05 300.5 67.82)" text-anchor="end">0.045</text>
<text class="tk" x="300.5" y="74.30" transform="rotate(0.05 300.5 74.30)" text-anchor="end">0.030</text>
<text class="tk" x="300.5" y="80.78" transform="rotate(0.05 300.5 80.78)" text-anchor="end">0.015</text>
<text class="tk" x="300.5" y="87.26" transform="rotate(0.05 300.5 87.26)" text-anchor="end">0.000</text>
<text class="tk" x="300.5" y="93.74" transform="rotate(0.05 300.5 93.74)" text-anchor="end">−0.015</text>
<text class="tk" x="300.5" y="100.22" transform="rotate(0.05 300.5 100.22)" text-anchor="end">−0.030</text>
<text class="tk" x="300.5" y="106.70" transform="rotate(0.05 300.5 106.70)" text-anchor="end">−0.045</text>
<text class="tk" x="300.5" y="113.18" transform="rotate(0.05 300.5 113.18)" text-anchor="end">−0.060</text>
<text class="tk" x="300.5" y="119.66" transform="rotate(0.05 300.5 119.66)" text-anchor="end">−0.075</text>
<text class="tk" x="300.5" y="126.14" transform="rotate(0.05 300.5 126.14)" text-anchor="end">−0.090</text>
<text class="tk" x="300.5" y="132.62" transform="rotate(0.05 300.5 132.62)" text-anchor="end">−0.105</text>
<text class="tk" x="300.5" y="139.10" transform="rotate(0.05 300.5 139.10)" text-anchor="end">−0.120</text>
<text class="tk" x="300.5" y="145.58" transform="rotate(0.05 300.5 145.58)" text-anchor="end">−0.135</text>
<text class="tk" x="23.1" y="319.55" transform="rotate(0.05 23.1 319.55)" text-anchor="middle">0</text>
<text class="tk" x="46.8" y="319.55" transform="rotate(0.05 46.8 319.55)" text-anchor="middle">750</text>
<text class="tk" x="70.4" y="319.55" transform="rotate(0.05 70.4 319.55)" text-anchor="middle">1500</text>
<text class="tk" x="94.1" y="319.55" transform="rotate(0.05 94.1 319.55)" text-anchor="middle">2250</text>
<text class="tk" x="117.7" y="319.55" transform="rotate(0.05 117.7 319.55)" text-anchor="middle">3000</text>
<text class="tk" x="141.4" y="319.55" transform="rotate(0.05 141.4 319.55)" text-anchor="middle">3750</text>
<text class="tk" x="165.0" y="319.55" transform="rotate(0.05 165.0 319.55)" text-anchor="middle">4500</text>
<text class="tk" x="188.7" y="319.55" transform="rotate(0.05 188.7 319.55)" text-anchor="middle">5250</text>
<text class="tk" x="212.3" y="319.55" transform="rotate(0.05 212.3 319.55)" text-anchor="middle">6000</text>
<text class="tk" x="236.0" y="319.55" transform="rotate(0.05 236.0 319.55)" text-anchor="middle">6750</text>
<text class="tk" x="259.6" y="319.55" transform="rotate(0.05 259.6 319.55)" text-anchor="middle">7500</text>
<text class="tk" x="20.9" y="178.20" transform="rotate(0.05 20.9 178.20)" text-anchor="end">1.8</text>
<text class="tk" x="20.9" y="185.87" transform="rotate(0.05 20.9 185.87)" text-anchor="end">1.7</text>
<text class="tk" x="20.9" y="193.54" transform="rotate(0.05 20.9 193.54)" text-anchor="end">1.6</text>
<text class="tk" x="20.9" y="201.22" transform="rotate(0.05 20.9 201.22)" text-anchor="end">1.5</text>
<text class="tk" x="20.9" y="208.89" transform="rotate(0.05 20.9 208.89)" text-anchor="end">1.4</text>
<text class="tk" x="20.9" y="216.56" transform="rotate(0.05 20.9 216.56)" text-anchor="end">1.3</text>
<text class="tk" x="20.9" y="224.23" transform="rotate(0.05 20.9 224.23)" text-anchor="end">1.2</text>
<text class="tk" x="20.9" y="231.91" transform="rotate(0.05 20.9 231.91)" text-anchor="end">1.1</text>
<text class="tk" x="20.9" y="239.58" transform="rotate(0.05 20.9 239.58)" text-anchor="end">1.0</text>
<text class="tk" x="20.9" y="247.25" transform="rotate(0.05 20.9 247.25)" text-anchor="end">0.9</text>
<text class="tk" x="20.9" y="254.92" transform="rotate(0.05 20.9 254.92)" text-anchor="end">0.8</text>
<text class="tk" x="20.9" y="262.59" transform="rotate(0.05 20.9 262.59)" text-anchor="end">0.7</text>
<text class="tk" x="20.9" y="270.27" transform="rotate(0.05 20.9 270.27)" text-anchor="end">0.6</text>
<text class="tk" x="20.9" y="277.94" transform="rotate(0.05 20.9 277.94)" text-anchor="end">0.5</text>
<text class="tk" x="20.9" y="285.61" transform="rotate(0.05 20.9 285.61)" text-anchor="end">0.4</text>
<text class="tk" x="20.9" y="293.28" transform="rotate(0.05 20.9 293.28)" text-anchor="end">0.3</text>
<text class="tk" x="20.9" y="300.96" transform="rotate(0.05 20.9 300.96)" text-anchor="end">0.2</text>
<text class="tk" x="20.9" y="308.63" transform="rotate(0.05 20.9 308.63)" text-anchor="end">0.1</text>
<text class="tk" x="20.9" y="316.30" transform="rotate(0.05 20.9 316.30)" text-anchor="end">0.0</text>
<text class="tk" x="301.9" y="318.90" transform="rotate(0.05 301.9 318.90)" text-anchor="middle">0</text>
<text class="tk" x="325.5" y="318.90" transform="rotate(0.05 325.5 318.90)" text-anchor="middle">750</text>
<text class="tk" x="349.1" y="318.90" transform="rotate(0.05 349.1 318.90)" text-anchor="middle">1500</text>
<text class="tk" x="372.6" y="318.90" transform="rotate(0.05 372.6 318.90)" text-anchor="middle">2250</text>
<text class="tk" x="396.2" y="318.90" transform="rotate(0.05 396.2 318.90)" text-anchor="middle">3000</text>
<text class="tk" x="419.8" y="318.90" transform="rotate(0.05 419.8 318.90)" text-anchor="middle">3750</text>
<text class="tk" x="443.4" y="318.90" transform="rotate(0.05 443.4 318.90)" text-anchor="middle">4500</text>
<text class="tk" x="467.0" y="318.90" transform="rotate(0.05 467.0 318.90)" text-anchor="middle">5250</text>
<text class="tk" x="490.5" y="318.90" transform="rotate(0.05 490.5 318.90)" text-anchor="middle">6000</text>
<text class="tk" x="514.1" y="318.90" transform="rotate(0.05 514.1 318.90)" text-anchor="middle">6750</text>
<text class="tk" x="537.7" y="318.90" transform="rotate(0.05 537.7 318.90)" text-anchor="middle">7500</text>
<text class="tk" x="299.9" y="178.20" transform="rotate(0.05 299.9 178.20)" text-anchor="end">1.0</text>
<text class="tk" x="299.9" y="185.07" transform="rotate(0.05 299.9 185.07)" text-anchor="end">0.9</text>
<text class="tk" x="299.9" y="191.94" transform="rotate(0.05 299.9 191.94)" text-anchor="end">0.8</text>
<text class="tk" x="299.9" y="198.81" transform="rotate(0.05 299.9 198.81)" text-anchor="end">0.7</text>
<text class="tk" x="299.9" y="205.68" transform="rotate(0.05 299.9 205.68)" text-anchor="end">0.6</text>
<text class="tk" x="299.9" y="212.55" transform="rotate(0.05 299.9 212.55)" text-anchor="end">0.5</text>
<text class="tk" x="299.9" y="219.42" transform="rotate(0.05 299.9 219.42)" text-anchor="end">0.4</text>
<text class="tk" x="299.9" y="226.29" transform="rotate(0.05 299.9 226.29)" text-anchor="end">0.3</text>
<text class="tk" x="299.9" y="233.16" transform="rotate(0.05 299.9 233.16)" text-anchor="end">0.2</text>
<text class="tk" x="299.9" y="240.03" transform="rotate(0.05 299.9 240.03)" text-anchor="end">0.1</text>
<text class="tk" x="299.9" y="246.90" transform="rotate(0.05 299.9 246.90)" text-anchor="end">0.0</text>
<text class="tk" x="299.9" y="253.77" transform="rotate(0.05 299.9 253.77)" text-anchor="end">−0.1</text>
<text class="tk" x="299.9" y="260.64" transform="rotate(0.05 299.9 260.64)" text-anchor="end">−0.2</text>
<text class="tk" x="299.9" y="267.51" transform="rotate(0.05 299.9 267.51)" text-anchor="end">−0.3</text>
<text class="tk" x="299.9" y="274.38" transform="rotate(0.05 299.9 274.38)" text-anchor="end">−0.4</text>
<text class="tk" x="299.9" y="281.25" transform="rotate(0.05 299.9 281.25)" text-anchor="end">−0.5</text>
<text class="tk" x="299.9" y="288.12" transform="rotate(0.05 299.9 288.12)" text-anchor="end">−0.6</text>
<text class="tk" x="299.9" y="294.99" transform="rotate(0.05 299.9 294.99)" text-anchor="end">−0.7</text>
<text class="tk" x="299.9" y="301.86" transform="rotate(0.05 299.9 301.86)" text-anchor="end">−0.8</text>
<text class="tk" x="299.9" y="308.73" transform="rotate(0.05 299.9 308.73)" text-anchor="end">−0.9</text>
<text class="tk" x="299.9" y="315.60" transform="rotate(0.05 299.9 315.60)" text-anchor="end">−1.0</text>
</g>
<g>
<text class="lb" x="142.3" y="155.75" transform="rotate(0.05 142.3 155.75)" text-anchor="middle">Time [s]</text>
<text class="lb" transform="translate(15.4,78.0) rotate(-89.95)" text-anchor="middle">True air speed [m/s]</text>
<text class="lg" x="215.9" y="15.5" transform="rotate(0.05 215.9 15.5)">Reference Trajectory</text>
<text class="lg" x="215.9" y="20.7" transform="rotate(0.05 215.9 20.7)">Optimal Trajectory</text>
<text class="cap" x="135.2" y="170.9" transform="rotate(0.05 135.2 170.9)" text-anchor="middle">(<tspan font-weight="bold">a</tspan>)</text>
<text class="lb" x="421.5" y="156.30" transform="rotate(0.05 421.5 156.30)" text-anchor="middle">Time [s]</text>
<text class="lb" transform="translate(287.6,77.0) rotate(-89.95)" text-anchor="middle">Flight Path Angle [rad]</text>
<text class="lg" x="495.9" y="14.9" transform="rotate(0.05 495.9 14.9)">Reference Trajectory</text>
<text class="lg" x="495.9" y="20.7" transform="rotate(0.05 495.9 20.7)">Optimal Trajectory</text>
<text class="cap" x="412.3" y="170.9" transform="rotate(0.05 412.3 170.9)" text-anchor="middle">(<tspan font-weight="bold">b</tspan>)</text>
<text class="lb" x="141.8" y="324.60" transform="rotate(0.05 141.8 324.60)" text-anchor="middle">Time [s]</text>
<text class="lb" transform="translate(14.4,245.9) rotate(-89.95)" text-anchor="middle">Heading [rad]</text>
<text class="lg" x="215.7" y="183.6" transform="rotate(0.05 215.7 183.6)">Reference Trajectory</text>
<text class="lg" x="215.7" y="189.5" transform="rotate(0.05 215.7 189.5)">Optimal Trajectory</text>
<text class="cap" x="135.3" y="339.35" transform="rotate(0.05 135.3 339.2)" text-anchor="middle">(<tspan font-weight="bold">c</tspan>)</text>
<text class="lb" x="420.1" y="324.00" transform="rotate(0.05 420.1 324.00)" text-anchor="middle">Time [s]</text>
<text class="lb" transform="translate(290.9,245.0) rotate(-89.95)" text-anchor="middle">u1 [m/s²]</text>
<text class="lg" x="493.5" y="183.6" transform="rotate(0.05 493.5 183.6)">Reference Trajectory</text>
<text class="lg" x="493.5" y="189.5" transform="rotate(0.05 493.5 189.5)">Optimal Trajectory</text>
<text class="cap" x="412.3" y="339.35" transform="rotate(0.05 412.3 339.2)" text-anchor="middle">(<tspan font-weight="bold">d</tspan>)</text>
</g>
</svg>
</body></html>
